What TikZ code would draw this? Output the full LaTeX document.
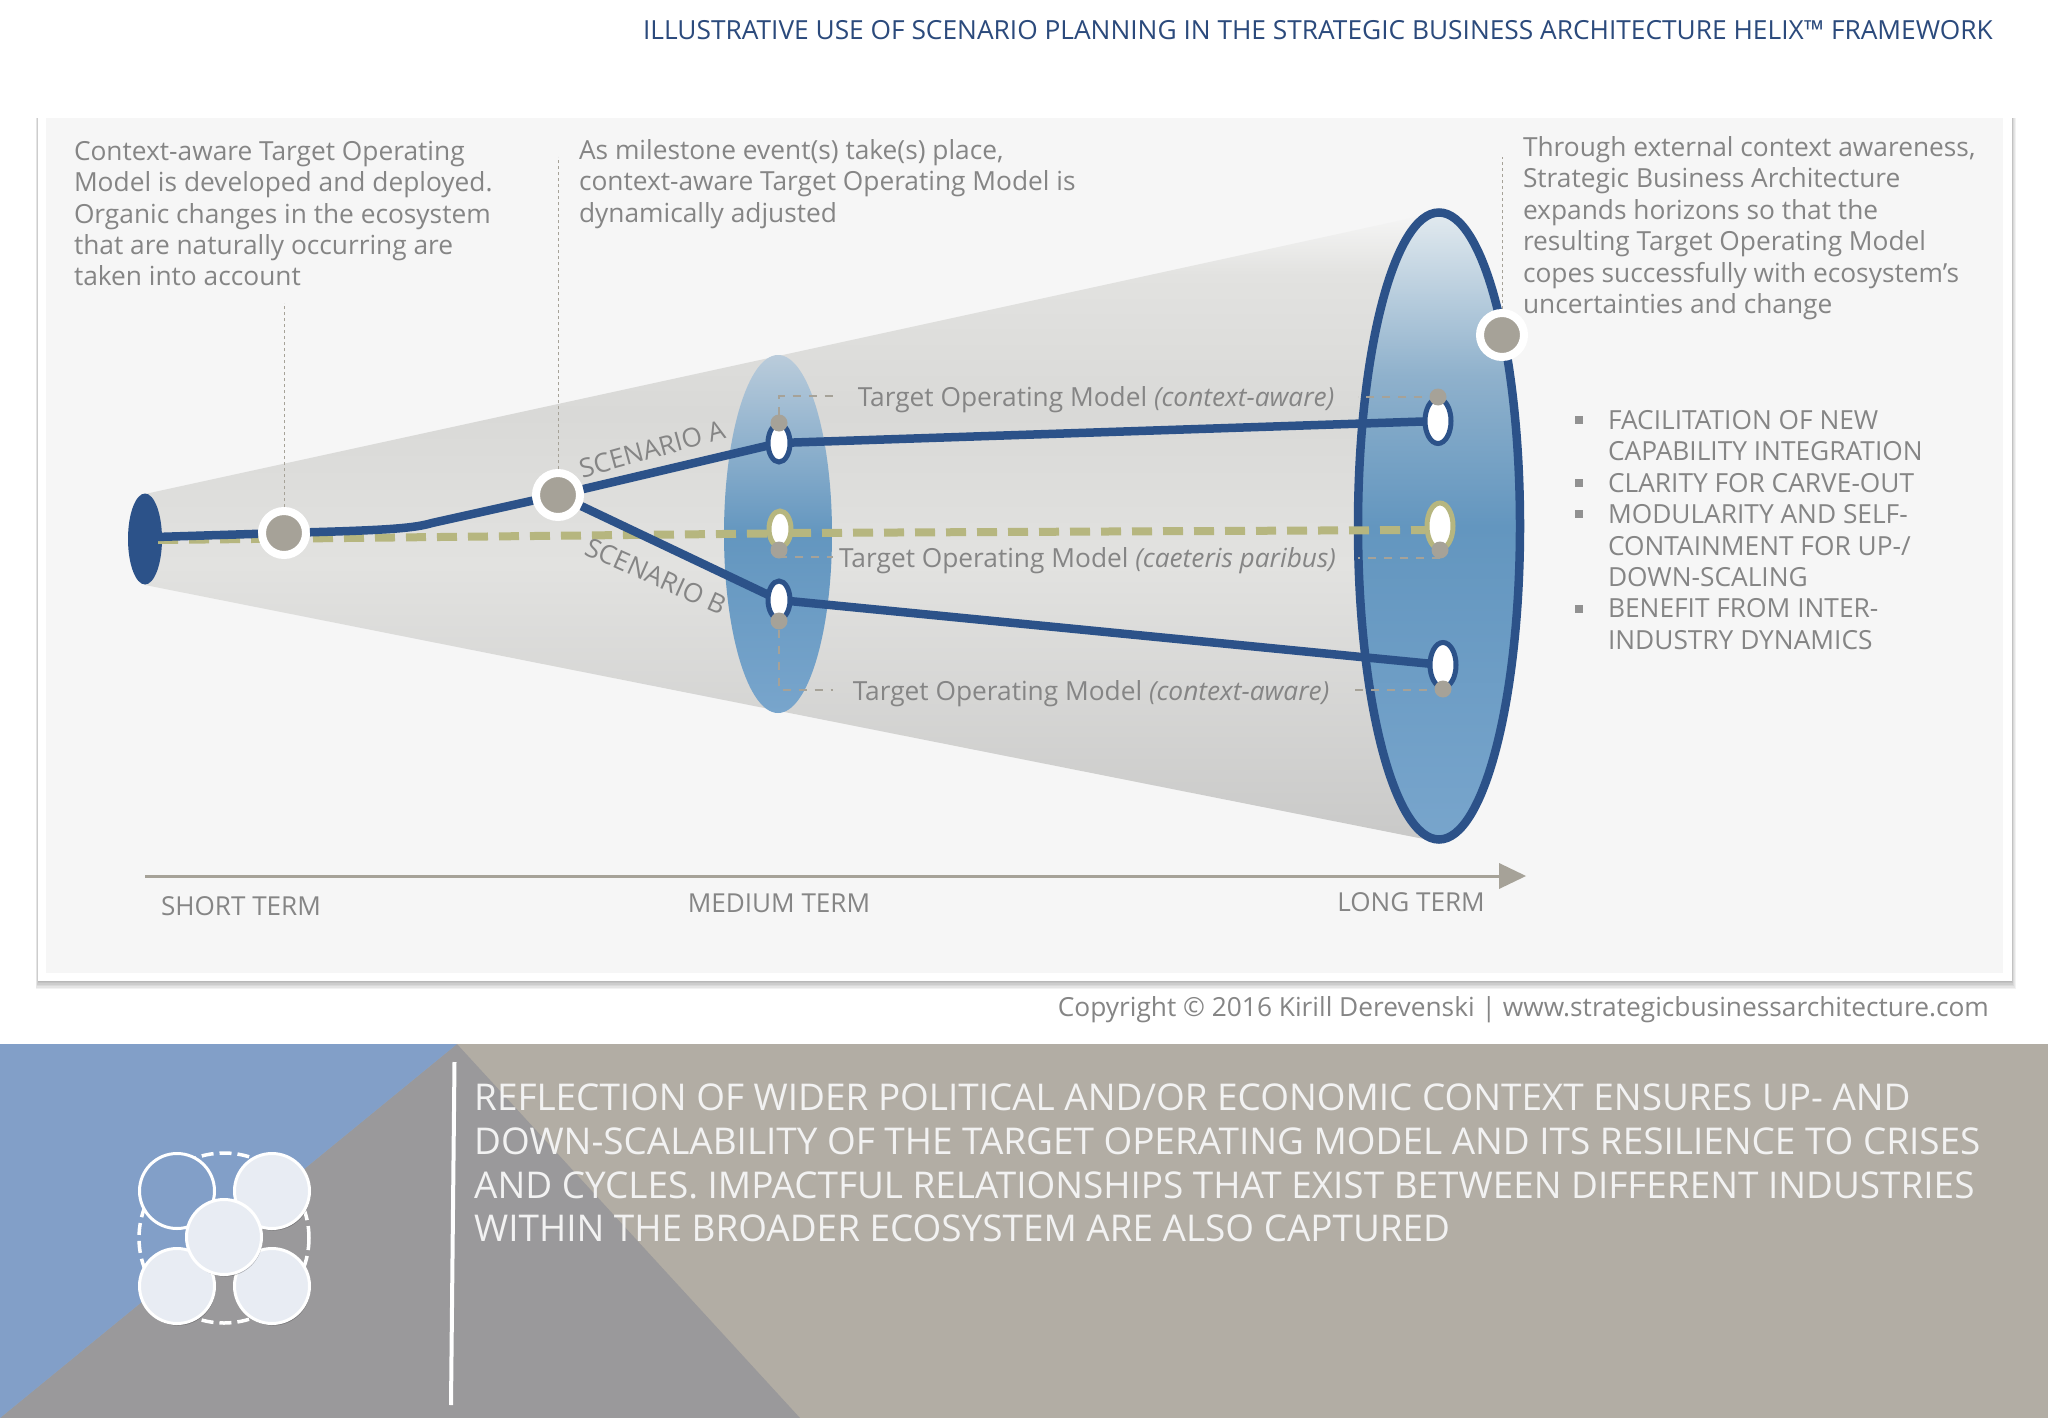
\documentclass[tikz,border=0pt]{standalone}
\usepackage{fontspec}
\setmainfont{Open Sans}
\usetikzlibrary{shapes.geometric,shadows,fadings}
\definecolor{navy}{HTML}{2C5289}
\definecolor{titlenavy}{HTML}{2B4A7C}
\definecolor{txt}{HTML}{858585}
\definecolor{dotgray}{HTML}{A6A298}
\definecolor{olive}{HTML}{B6B67F}
\definecolor{panelbg}{HTML}{F6F6F6}
\definecolor{bandbase}{HTML}{B2ADA4}
\definecolor{bandgray}{HTML}{9A999B}
\definecolor{bandblue}{HTML}{829FC8}
\definecolor{iconfill}{HTML}{E8ECF3}
\definecolor{bluebot}{HTML}{78A5CC}
\definecolor{bluemid}{HTML}{6396BF}
\definecolor{bluemid2}{HTML}{8FB1CC}
\definecolor{bluetop}{HTML}{E2EAEF}
\definecolor{midtop}{HTML}{BACCDB}
\definecolor{conea}{HTML}{C9C9C8}
\definecolor{coneb}{HTML}{E2E2E0}
\definecolor{conec}{HTML}{D9D9D7}
\definecolor{coned}{HTML}{E2E2E0}
\definecolor{conee}{HTML}{F6F6F6}
\pgfdeclareverticalshading{conegray}{100bp}{color(0bp)=(conea); color(25bp)=(conea); color(47bp)=(coneb); color(59bp)=(conec); color(70bp)=(coned); color(75bp)=(conee); color(100bp)=(conee)}
\pgfdeclareverticalshading{bigblue}{100bp}{color(0bp)=(bluebot); color(25bp)=(bluebot); color(50bp)=(bluemid); color(62bp)=(bluemid2); color(75bp)=(bluetop); color(100bp)=(bluetop)}
\pgfdeclareverticalshading{midblue}{100bp}{color(0bp)=(bluebot); color(25bp)=(bluebot); color(50bp)=(bluemid); color(75bp)=(midtop); color(100bp)=(midtop)}
\tikzset{
  para/.style={anchor=north west,inner sep=0pt,outer sep=0pt,align=left,text=txt,font=\fontsize{26.3}{31.4}\selectfont},
  tomlabel/.style={anchor=center,inner sep=0pt,text=txt,font=\fontsize{26.3}{31}\selectfont},
  termlabel/.style={anchor=center,inner sep=0pt,text=txt,font=\fontsize{26.1}{31}\selectfont},
  hub/.style={circle,draw=white,fill=dotgray,line width=8pt,minimum size=44pt,inner sep=0pt,outer sep=4pt,drop shadow={shadow xshift=1pt,shadow yshift=-2pt,opacity=.25,fill=black}},
  tomring/.style={ellipse,draw=navy,fill=white,line width=5pt,inner sep=0pt,outer sep=0pt},
  oliveoval/.style={ellipse,draw=olive,fill=white,line width=5pt,inner sep=0pt,outer sep=0pt},
  dot/.style={circle,fill=dotgray,minimum size=17pt,inner sep=0pt,outer sep=0pt},
  leader/.style={draw=dotgray,line width=.8pt,dash pattern=on 3pt off 3pt},
  leaderb/.style={draw=dotgray,line width=1.3pt,dash pattern=on 8pt off 8pt},
  route/.style={draw=navy,line width=8.5pt},
  baseline route/.style={draw=olive,line width=8pt,dash pattern=on 20pt off 11pt},
  sq/.style={rectangle,fill=txt!90,minimum size=8pt,inner sep=0pt},
  iconc/.style={circle,draw=white,line width=3pt,minimum size=75pt,inner sep=0pt,fill=iconfill,drop shadow={shadow xshift=1pt,shadow yshift=-2pt,opacity=.25,fill=black}},
}
\begin{document}
\begin{tikzpicture}[x=1pt,y=-1pt]
\useasboundingbox (0,0) rectangle (2048,1418);
\fill[white] (0,0) rectangle (2048,1418);
% header
\node[anchor=east,inner sep=0pt,text=titlenavy,font=\fontsize{26.3}{31}\selectfont] (title) at (1993,30) {ILLUSTRATIVE USE OF SCENARIO PLANNING IN THE STRATEGIC BUSINESS ARCHITECTURE HELIX™ FRAMEWORK};
% panel with soft shadow
\foreach \s in {5,4,3,2,1,0}{
  \fill[black,opacity=.05] ({38-\s*.5},{118}) rectangle ({2012+\s*.7},{982+\s*1.4});
}
\fill[white] (38,113) rectangle (2012,981);
\fill[panelbg] (46,118) rectangle (2003,973);
% cone
\shade[shading=conegray] (145,494) -- (1439,212) -- (1439,842) -- (145,585) -- cycle;
% ellipses
\node[ellipse,shading=midblue,minimum width=108pt,minimum height=358pt,inner sep=0pt,outer sep=0pt] (midE) at (778,534) {};
\node[ellipse,shading=bigblue,draw=navy,line width=8.5pt,minimum width=162pt,minimum height=627pt,inner sep=0pt,outer sep=0pt] (bigE) at (1439,526) {};
\node[ellipse,fill=navy,minimum width=34pt,minimum height=91pt,inner sep=0pt,outer sep=0pt] (root) at (145,539) {};
% small ovals
\node[tomring,minimum width=22pt,minimum height=38pt] (mA) at (779,443) {};
\node[oliveoval,minimum width=22pt,minimum height=36pt] (mO) at (780,529) {};
\node[tomring,minimum width=22pt,minimum height=38pt] (mB) at (779,600) {};
\node[tomring,minimum width=26pt,minimum height=45pt] (bA) at (1438,421) {};
\node[oliveoval,minimum width=26pt,minimum height=46pt] (bO) at (1440,526) {};
\node[tomring,minimum width=26pt,minimum height=45pt] (bB) at (1443,665) {};
% baseline route runs under the first hub
\coordinate (rootO) at (158,540);
\coordinate (oW) at (769,533.5);
\coordinate (oE) at (791,533);
\coordinate (oB) at (1425,530);
\draw[baseline route] (rootO) -- (oW);
\draw[baseline route] (oE) -- (oB);
% hubs
\node[hub] (n1) at (284,533) {};
\node[hub] (n2) at (558,495) {};
\node[hub] (n3) at (1502,335) {};
% routes
\coordinate (bend) at (432,523);
\coordinate (rootR) at (156,537);
\draw[route] (rootR) -- (n1);
\draw[route] (n1) .. controls (390,530) and (415,528) .. (bend) -- (n2);
\draw[route] (n2) -- (mA);
\draw[route] (n2) -- (mB);
\draw[route] (mA) -- (bA);
\draw[route] (mB) -- (bB);
% dots
\node[dot] (dmA) at (779,423) {};
\node[dot] (dmO) at (779,550) {};
\node[dot] (dmB) at (779,621) {};
\node[dot] (dbA) at (1438,397) {};
\node[dot] (dbO) at (1440,550) {};
\node[dot] (dbB) at (1443,689) {};
% text blocks
\node[para] (t1) at (74,141) {Context-aware Target Operating\\Model is developed and deployed.\\Organic changes in the ecosystem\\that are naturally occurring are\\taken into account};
\node[para] (t2) at (579,139.5) {As milestone event(s) take(s) place,\\context-aware Target Operating Model is\\dynamically adjusted};
\node[para] (t3) at (1523,136.5) {Through external context awareness,\\Strategic Business Architecture\\expands horizons so that the\\resulting Target Operating Model\\copes successfully with ecosystem’s\\uncertainties and change};
\node[para] (t4) at (1608,410.5) {FACILITATION OF NEW\\CAPABILITY INTEGRATION\\CLARITY FOR CARVE-OUT\\MODULARITY AND SELF-\\CONTAINMENT FOR UP-/\\DOWN-SCALING\\BENEFIT FROM INTER-\\INDUSTRY DYNAMICS};
\node[sq] (s1) at (1579,420) {};
\node[sq] (s2) at (1579,483) {};
\node[sq] (s3) at (1579,514) {};
\node[sq] (s4) at (1579,609) {};
% leaders from text
\coordinate (l1) at (284,303);
\coordinate (l2) at (558,157);
\coordinate (l3) at (1502,157);
\draw[leader] (n1) -- (l1);
\draw[leader] (n2) -- (l2);
\draw[leader] (n3) -- (l3);
% TOM labels
\node[tomlabel] (la) at (1096,399.5) {Target Operating Model \textit{(context-aware)}};
\node[tomlabel] (lo) at (1087.5,560.5) {Target Operating Model \textit{(caeteris paribus)}};
\node[tomlabel] (lb) at (1091,693.5) {Target Operating Model \textit{(context-aware)}};
\coordinate (ca1) at (779,396); \coordinate (ca2) at (833,396);
\coordinate (co1) at (779,557); \coordinate (co2) at (833,557);
\coordinate (cb1) at (779,690); \coordinate (cb2) at (833,690);
\coordinate (da1) at (1438,397); \coordinate (da2) at (1358,397);
\coordinate (do1) at (1440,558); \coordinate (do2) at (1358,558);
\coordinate (db1) at (1443,690); \coordinate (db2) at (1348,690);
\draw[leaderb] (dmA) -- (ca1) -- (ca2);
\draw[leaderb] (co1) -- (co2);
\draw[leaderb] (dmB) -- (cb1) -- (cb2);
\draw[leaderb] (da1) -- (da2);
\draw[leaderb] (do1) -- (do2);
\draw[leaderb] (db1) -- (db2);
% scenario labels
\node[inner sep=0pt,text=txt,rotate=15.5,font=\fontsize{26.3}{31}\selectfont] (sa) at (652,449) {SCENARIO A};
\node[inner sep=0pt,text=txt,rotate=-24,font=\fontsize{26.3}{31}\selectfont] (sb) at (656,576) {SCENARIO B};
% axis
\coordinate (axL) at (145,876);
\coordinate (axR) at (1526,876);
\draw[draw=dotgray,line width=3pt] (axL) -- (1505,876);
\fill[dotgray] (axR) -- (1499,863) -- (1499,889) -- cycle;
\node[termlabel] (st) at (241,906) {SHORT TERM};
\node[termlabel] (mt) at (779,903) {MEDIUM TERM};
\node[termlabel] (lt) at (1411,902) {LONG TERM};
% copyright
\node[anchor=east,inner sep=0pt,text=txt,font=\fontsize{26.3}{31}\selectfont] (cr) at (1989,1009.5) {Copyright © 2016 Kirill Derevenski | www.strategicbusinessarchitecture.com};
% band
\fill[bandbase] (0,1044) rectangle (2048,1418);
\fill[bandgray] (457,1044) -- (800,1418) -- (0,1418) -- cycle;
\fill[bandblue] (0,1044) -- (457,1044) -- (0,1418) -- cycle;
\coordinate (v1) at (454.5,1062);
\coordinate (v2) at (451,1405);
\draw[white,line width=4pt] (v1) -- (v2);
\node[anchor=north west,inner sep=0pt,align=left,text=white!95!black,font=\fontsize{36.9}{43.8}\selectfont] (band) at (474,1083.5) {REFLECTION OF WIDER POLITICAL AND/OR ECONOMIC CONTEXT ENSURES UP- AND\\DOWN-SCALABILITY OF THE TARGET OPERATING MODEL AND ITS RESILIENCE TO CRISES\\AND CYCLES. IMPACTFUL RELATIONSHIPS THAT EXIST BETWEEN DIFFERENT INDUSTRIES\\WITHIN THE BROADER ECOSYSTEM ARE ALSO CAPTURED};
% icon
\node[circle,draw=white,line width=3.5pt,dash pattern=on 12pt off 6pt,minimum size=170pt,inner sep=0pt] (iconring) at (224,1238) {};
\node[circle,draw=white,line width=3pt,minimum size=75pt,inner sep=0pt,fill=bandblue] (i1) at (177,1191) {};
\node[iconc] (i2) at (272,1191) {};
\node[iconc] (i3) at (177,1286) {};
\node[iconc] (i4) at (272,1286) {};
\node[iconc] (i5) at (224,1237) {};
\end{tikzpicture}
\end{document}
